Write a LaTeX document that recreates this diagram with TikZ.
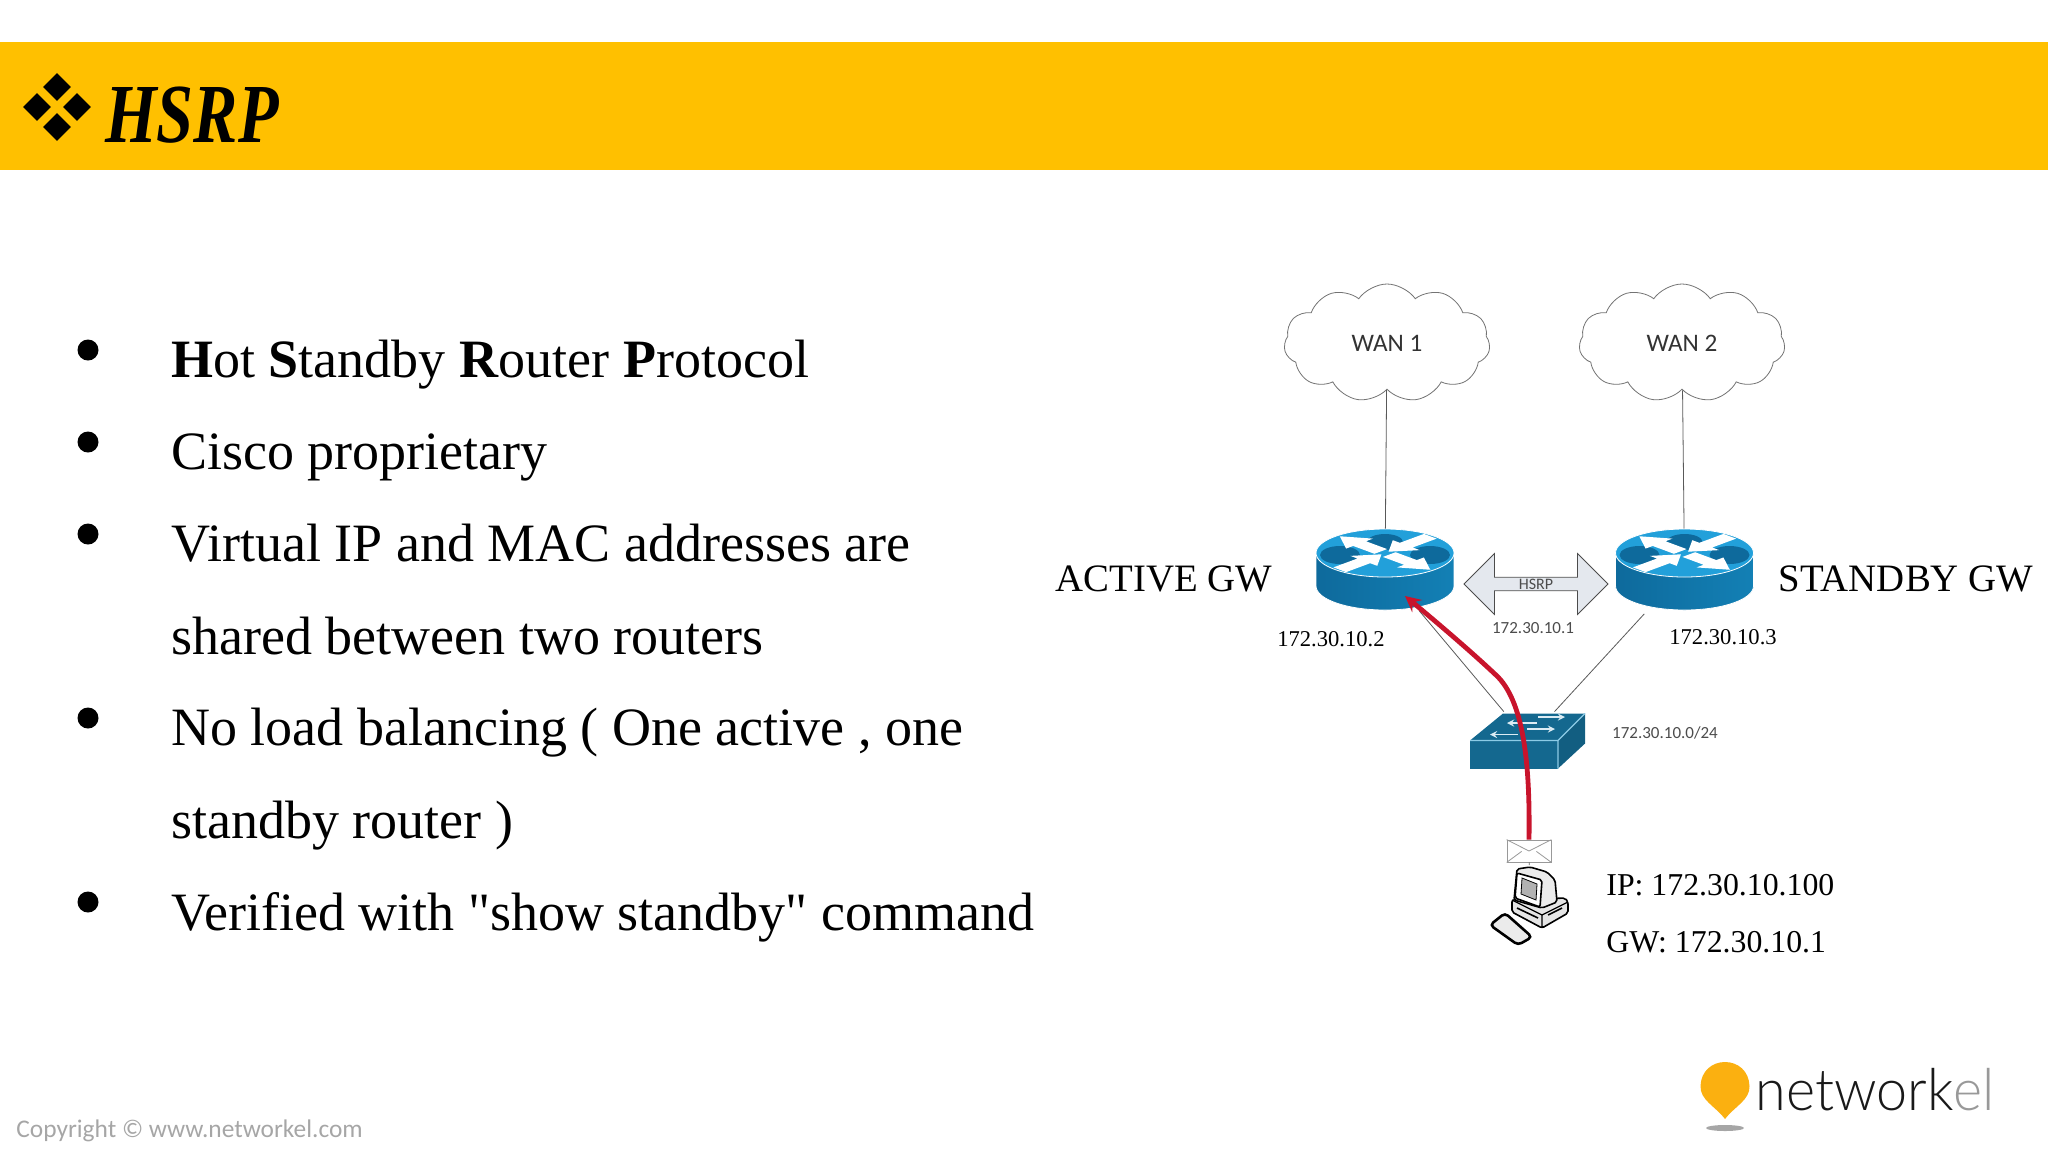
\documentclass[tikz,border=0pt]{standalone}
\usepackage{fontspec}
\setmainfont[Ligatures=TeXOff]{Liberation Serif}
\newfontfamily\labelfont{Carlito}
\newfontfamily\logofont{Lato Light}
\usetikzlibrary{arrows,positioning,shapes,shapes.arrows,shapes.symbols,shapes.geometric}
\definecolor{banner}{HTML}{FFC000}
\definecolor{ciscoblue}{HTML}{1380B5}
\definecolor{ciscolight}{HTML}{22A0DA}
\definecolor{ciscodark}{HTML}{0E6A9C}
\definecolor{ciscoedge}{HTML}{8CCBE6}
\definecolor{switchblue}{HTML}{14688F}
\definecolor{pinyellow}{HTML}{FBB010}
\definecolor{arrowred}{HTML}{C8142C}
\definecolor{hsrpfill}{HTML}{E4E8EE}
\tikzstyle{bullet}=[circle, fill=black, inner sep=0pt, minimum size=10.5pt]
\tikzstyle{title mark}=[diamond, fill=black, inner sep=0pt, minimum size=14pt]
\tikzstyle{body text}=[anchor=base west, inner sep=0pt, font=\fontsize{27}{30}\selectfont]
\tikzstyle{note}=[inner sep=0pt, font=\fontsize{19.4}{24}\selectfont]
\tikzstyle{small note}=[inner sep=0pt, font=\fontsize{11.3}{13}\selectfont]
\tikzstyle{small sans}=[inner sep=0pt, text=black!70, font=\labelfont\fontsize{8.5}{10}\selectfont]
\tikzstyle{wan}=[cloud, cloud puffs=11, cloud puff arc=110, aspect=1.7, draw=black!55, fill=white,
  minimum width=103pt, minimum height=59pt, inner sep=0pt, text=black!80, font=\labelfont\fontsize{12.6}{14}\selectfont]
\tikzstyle{device}=[inner sep=0pt]
\tikzstyle{link}=[draw=black!65, thin]
\tikzset{
  router/.pic={
    \draw[white, thin, left color=ciscodark, right color=ciscoblue]
      (-69,-17) -- (-69,16) arc[start angle=180, end angle=0, x radius=69, y radius=24] -- (69,-17) -- cycle;
    \draw[white, thin, fill=ciscolight] (0,-17) ellipse [x radius=69, y radius=24];
    \fill[ciscodark] (-45,-15) ellipse [x radius=20, y radius=9];
    \fill[ciscodark] (45,-15) ellipse [x radius=20, y radius=9];
    \fill[ciscodark] (0,-28) ellipse [x radius=18, y radius=8];
    \foreach \a in {-45,135} {
      \fill[white, shift={(0,-17)}, yscale=.37, rotate=\a]
        (6,-9) -- (36,-9) -- (36,-19) -- (64,0) -- (36,19) -- (36,9) -- (6,9) -- cycle;
    }
    \foreach \a in {45,225} {
      \fill[white, shift={(0,-17)}, yscale=.37, rotate=\a]
        (5,0) -- (30,-19) -- (30,-9) -- (64,-9) -- (64,9) -- (30,9) -- (30,19) -- cycle;
    }
  },
  switch/.pic={
    \fill[switchblue] (-58,0) -- (30,0) -- (30,28) -- (-58,28) -- cycle;
    \fill[switchblue] (-58,0) -- (-25,-27) -- (57,-27) -- (30,0) -- cycle;
    \fill[switchblue!90!black] (30,0) -- (57,-27) -- (57,3) -- (30,28) -- cycle;
    \draw[ciscoedge, semithick] (-58,0) -- (30,0) -- (57,-27) (30,0) -- (30,28);
    \draw[white!85!ciscoblue, semithick, -stealth] (10,-23.5) -- (37,-23.5);
    \draw[white!85!ciscoblue, semithick, -stealth] (9,-17.5) -- (-21,-17.5);
    \draw[white!85!ciscoblue, semithick, -stealth] (-1,-11.5) -- (27,-11.5);
    \draw[white!85!ciscoblue, semithick, -stealth] (-10,-6) -- (-38,-6);
  },
  computer/.pic={
    \draw[black, thick, fill=black!10, rounded corners=1pt]
      (-18,-5) -- (35,-7) -- (38,-3) -- (38,8) -- (12,23) -- (-18,7) -- cycle;
    \draw[black, semithick] (-18,-5) -- (12,10) -- (38,-3) (12,10) -- (12,23);
    \draw[black, thick] (-13,3) -- (8,13) (18,10) -- (32,3);
    \draw[black, thick, fill=black!8, rounded corners=1pt]
      (-13,-36) -- (0,-38) -- (17,-33) -- (25,-25) -- (27,-3) -- (12,3) -- (-16,-5) -- cycle;
    \draw[black, thick, fill=white, rounded corners=1pt]
      (-13,-32) -- (12,-25) -- (10,2) -- (-15,-7) -- cycle;
    \draw[black, fill=black!30] (-8,-27) -- (7,-21) -- (6,-5) -- (-9,-11) -- cycle;
    \draw[black, line width=1.3pt, fill=black!8, rounded corners=2pt]
      (-40,20) -- (-25,8) -- (2,32) -- (-12,40) -- cycle;
  }
}
\begin{document}
\begin{tikzpicture}[x=0.5pt, y=-0.5pt]
\useasboundingbox (0,0) rectangle (2048,1152);
\fill[banner] (0,42) rectangle (2048,170);

\node[title mark] (MarkTop) at (57,87) {};
\node[title mark] (MarkLeft) at (37,107) {};
\node[title mark] (MarkRight) at (77,107) {};
\node[title mark] (MarkBottom) at (57,127) {};
\node[anchor=base west, inner sep=0pt, xscale=.79, font=\fontsize{42}{46}\selectfont\bfseries\itshape] (Title) at (105,142) {HSRP};

\node[bullet] (Bullet1) at (88,350) {};
\node[bullet] (Bullet2) at (88,442) {};
\node[bullet] (Bullet3) at (88,534) {};
\node[bullet] (Bullet4) at (88,718) {};
\node[bullet] (Bullet5) at (88,902) {};

\node[body text] (Line1) at (171,377) {\textbf{H}ot \textbf{S}tandby \textbf{R}outer \textbf{P}rotocol};
\node[body text] (Line2) at (171,469) {Cisco proprietary};
\node[body text] (Line3) at (171,561) {Virtual IP and MAC addresses are};
\node[body text] (Line4) at (171,654) {shared between two routers};
\node[body text] (Line5) at (171,745) {No load balancing ( One active , one};
\node[body text] (Line6) at (171,838) {standby router )};
\node[body text] (Line7) at (171,930) {Verified with "show standby" command};

\node[wan] (Wan1) at (1387,343) {WAN 1};
\draw (Wan1) ++(295,0) node[wan] (Wan2) {WAN 2};

\node[device, minimum width=69.5pt, minimum height=40.5pt] (Router1) at (1385,570) {};
\draw (Router1) ++(299.5,0) node[device, minimum width=69.5pt, minimum height=40.5pt] (Router2) {};
\node[device, minimum width=59pt, minimum height=28.5pt] (Switch) at (1528,740.5) {};

\draw[link] (Wan1) -- (Router1);
\draw[link] (Wan2) -- (Router2);
\draw[link] (Router1) -- (Switch);
\draw[link, shorten <=2pt] (Router2) -- (Switch);

\pic at (Router1) {router};
\pic at (Router2) {router};
\pic at (Switch) {switch};

\node[double arrow, draw=black!70, fill=hsrpfill, inner sep=0pt, minimum height=72pt, minimum width=30.5pt,
  double arrow head extend=10pt, double arrow tip angle=90, text=black!70, font=\labelfont\fontsize{8}{9}\selectfont] (Hsrp) at (1536,584) {HSRP};

\node[note] (ActiveGw) at (1164,579) {ACTIVE GW};
\node[note] (StandbyGw) at (1906,579) {STANDBY GW};
\node[small note] (AddrActive) at (1331,639) {172.30.10.2};
\node[small note] (AddrStandby) at (1723,637) {172.30.10.3};
\node[small sans] (AddrVirtual) at (1533,628) {172.30.10.1};
\node[small sans] (AddrNet) at (1665,733) {172.30.10.0/24};

\node[draw=black!40, fill=white, inner sep=0pt, minimum width=22pt, minimum height=11pt] (Mail) at (1529,851) {};
\draw[black!40] (Mail.north west) -- (Mail.center) -- (Mail.north east);
\draw[black!40] (Mail.south west) -- ++(15,-11) (Mail.south east) -- ++(-15,-11);
\node[device, minimum width=41pt, minimum height=39.5pt] (Pc) at (1530,905) {};
\draw[black!60] (Mail) -- (Pc);
\pic at (Pc) {computer};

\coordinate (RedEnd) at (1405,596);
\draw[arrowred, line width=2.4pt, -stealth] (Mail.north) .. controls (1530,770) and (1525,705) .. (1498,677)
  .. controls (1475,655) and (1440,625) .. (RedEnd);

\node[inner sep=0pt, anchor=west, font=\fontsize{15.9}{19}\selectfont] (PcIp) at (1606,885) {IP: 172.30.10.100};
\node[inner sep=0pt, anchor=west, font=\fontsize{15.9}{19}\selectfont] (PcGw) at (1606,942) {GW: 172.30.10.1};

\fill[black!35] (1725,1128) ellipse [x radius=19, y radius=3];
\fill[pinyellow] (1725,1119) .. controls (1715,1106) and (1700,1100) .. (1700.5,1086)
  .. controls (1701,1071) and (1712,1062) .. (1725,1062)
  .. controls (1738,1062) and (1749,1071) .. (1749.5,1086)
  .. controls (1750,1100) and (1735,1106) .. (1725,1119) -- cycle;
\node[anchor=base west, inner sep=0pt, xscale=.96, font=\logofont\fontsize{29}{32}\selectfont, text=black!90] (Logo) at (1755,1110) {network\textcolor{black!40}{el}};

\node[anchor=west, inner sep=0pt, text=black!35, font=\labelfont\fontsize{12.7}{15}\selectfont] (Copy) at (16,1131) {Copyright © www.networkel.com};
\end{tikzpicture}
\end{document}
